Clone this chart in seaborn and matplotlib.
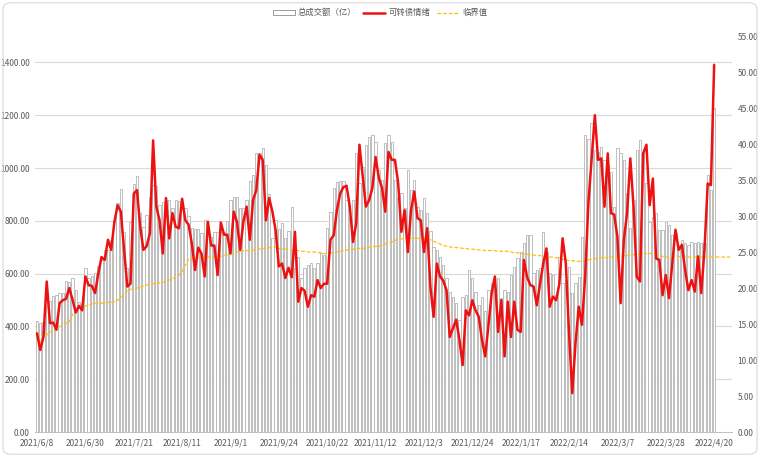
import numpy as np
import pandas as pd
import matplotlib
matplotlib.use("Agg")
import matplotlib.pyplot as plt
import seaborn as sns
from matplotlib.patches import Patch, FancyBboxPatch
from matplotlib.lines import Line2D

# --- data ---
# 总成交额（亿）, one bar per trading day 2021/6/8 .. 2022/4/20
turnover = [
    420, 412, 418, 477, 497, 516, 519, 525, 527, 573,
    569, 583, 538, 494, 485, 621, 583, 592, 602, 630,
    653, 691, 691, 727, 797, 866, 922, 758, 623, 797,
    941, 969, 830, 777, 821, 891, 936, 930, 860, 870,
    880, 879, 850, 879, 876, 860, 850, 820, 772, 770,
    770, 753, 803, 751, 740, 758, 758, 758, 758, 800,
    879, 891, 891, 847, 850, 879, 950, 974, 1056, 1056,
    1075, 1011, 900, 734, 803, 770, 790, 734, 760, 853,
    620, 664, 582, 620, 633, 639, 620, 639, 677, 671,
    772, 835, 923, 948, 950, 950, 879, 815, 879, 1056,
    942, 1005, 1087, 1119, 1125, 1100, 992, 955, 1094, 1125,
    1100, 955, 891, 904, 847, 992, 917, 955, 853, 840,
    885, 828, 760, 700, 689, 664, 633, 582, 531, 510,
    487, 424, 512, 519, 614, 585, 530, 480, 512, 460,
    538, 563, 550, 582, 506, 538, 531, 595, 626, 658,
    683, 715, 746, 746, 601, 614, 620, 759, 683, 601,
    595, 520, 664, 563, 576, 626, 525, 563, 588, 740,
    1125, 1110, 1170, 1068, 1062, 1081, 1030, 1011, 986, 853,
    1075, 1056, 1030, 904, 772, 879, 1068, 1106, 1062, 942,
    797, 816, 828, 765, 765, 797, 784, 746, 753, 696,
    727, 715, 708, 721, 715, 721, 715, 715, 974, 917,
    1226,
]

# 可转债情绪 (right axis)
sentiment = [
    13.7, 11.4, 13.2, 20.9, 15.1, 15.2, 14.2, 17.9, 18.3, 18.5,
    20.0, 18.4, 16.6, 17.5, 16.9, 21.6, 20.4, 20.3, 19.3, 22.0,
    24.3, 23.9, 26.7, 25.3, 29.2, 31.5, 30.6, 25.3, 20.2, 20.6,
    33.1, 33.6, 28.5, 25.3, 25.8, 27.6, 40.5, 31.3, 29.4, 24.8,
    32.5, 26.9, 30.4, 28.5, 28.3, 32.4, 29.4, 28.8, 26.2, 22.5,
    25.6, 24.8, 21.6, 29.2, 25.9, 25.9, 21.8, 29.1, 27.4, 27.4,
    24.8, 30.6, 29.2, 25.3, 29.2, 31.3, 26.7, 32.2, 33.6, 38.5,
    37.8, 29.4, 32.5, 30.6, 28.0, 23.0,
    23.4, 21.4, 22.8, 21.5, 27.8, 18.1, 20.0, 19.6, 17.4, 19.0,
    18.8, 21.1, 20.0, 20.6, 20.6, 26.7, 27.3, 30.8, 33.1, 34.0,
    34.2, 31.3, 26.4, 29.0, 39.9, 35.5, 31.3, 32.2, 33.9, 38.2,
    35.3, 33.9, 30.6, 38.9, 37.8, 37.8, 34.6, 27.8, 30.8, 25.0,
    30.8, 33.4, 29.7, 29.4, 25.0, 28.3, 20.2, 16.0, 23.4, 21.6,
    21.0, 19.7, 13.2, 14.4, 15.6, 12.8, 9.3, 16.9, 16.2, 18.3,
    16.9, 16.0, 12.8, 10.5, 14.8, 19.3, 21.6, 13.9, 18.3, 10.5,
    18.1, 13.2, 18.1, 14.2, 13.9, 23.9, 21.5, 20.4,
    20.2, 17.6, 20.6, 23.4, 25.5, 17.4, 18.8, 18.3, 20.6, 26.9,
    23.4, 13.7, 5.4, 12.3, 17.4, 14.9, 21.6, 31.8, 37.8, 44.0,
    37.8, 38.0, 31.3, 38.7, 30.4, 30.2, 27.1, 17.9, 26.7, 30.4,
    38.0, 31.3, 21.6, 20.9, 38.7, 39.9, 31.5, 35.2, 24.1, 23.9,
    19.0, 21.8, 18.6, 23.4, 28.1, 25.3, 26.0, 22.5, 19.7, 21.1,
    19.5, 24.4, 19.3, 25.3, 34.5, 34.3, 51.0,
]

# 临界值 (right axis), runs a few empty days past the last trading day
threshold = [
    13.7, 12.5, 13.2, 13.5, 13.9, 14.1, 14.4, 14.6, 14.9, 15.1,
    15.3, 16.3, 16.8, 17.2, 17.3, 17.5, 17.6, 17.8, 17.9, 17.9,
    17.9, 17.9, 18.0, 18.0, 18.1, 18.3, 18.7, 19.1, 19.6, 19.8,
    19.9, 20.0, 20.1, 20.3, 20.4, 20.5, 20.6, 20.6, 20.7, 20.8,
    20.9, 21.1, 21.3, 21.5, 21.8, 22.3, 23.2, 24.0, 24.1, 24.2,
    24.2, 24.2, 24.3, 24.3, 24.3, 24.3, 24.4, 24.4, 24.5, 24.6,
    24.7, 24.9, 25.0, 25.1, 25.1, 25.2, 25.2, 25.3, 25.3, 25.4,
    25.5, 25.5, 25.6, 25.6, 25.7, 25.5, 25.4, 25.4, 25.3, 25.3,
    25.3, 25.2, 25.1, 25.1, 25.0, 25.0, 25.0, 24.9, 24.9, 24.8,
    24.8, 24.9, 24.9, 25.0, 25.1, 25.2, 25.3, 25.3, 25.4, 25.4,
    25.5, 25.5, 25.6, 25.7, 25.7, 25.8, 25.8, 26.0, 26.1, 26.3,
    26.4, 26.6, 26.8, 26.8, 26.9, 26.9, 26.9, 26.9, 26.9, 26.9,
    26.8, 26.8, 26.7, 26.5, 26.3, 26.1, 25.9, 25.8, 25.7, 25.7,
    25.6, 25.6, 25.5, 25.5, 25.4, 25.4, 25.3, 25.3, 25.3, 25.2,
    25.2, 25.2, 25.2, 25.1, 25.1, 25.1, 25.1, 25.0, 24.9, 24.9,
    24.8, 24.7, 24.7, 24.6, 24.6, 24.5, 24.5, 24.4, 24.4, 24.3,
    24.3, 24.2, 24.1, 24.0, 23.9, 23.8, 23.8, 23.7, 23.7, 23.7,
    23.8, 23.9, 24.0, 24.1, 24.1, 24.2, 24.2, 24.3, 24.3, 24.3,
    24.4, 24.4, 24.5, 24.5, 24.6, 24.6, 24.7, 24.7, 24.8, 24.8,
    24.8, 24.8, 24.6, 24.5, 24.4, 24.3, 24.3, 24.4, 24.5, 24.4,
    24.3, 24.3, 24.3, 24.3, 24.3, 24.3, 24.3, 24.3, 24.3, 24.3,
    24.3, 24.3, 24.3, 24.3, 24.3, 24.3,
]

# every 15th trading day gets a label
tick_labels = [
    "2021/6/8", "2021/6/30", "2021/7/21", "2021/8/11", "2021/9/1",
    "2021/9/24", "2021/10/22", "2021/11/12", "2021/12/3", "2021/12/24",
    "2022/1/17", "2022/2/14", "2022/3/7", "2022/3/28", "2022/4/20",
]
n_slots = len(threshold)

sns.set_theme(style="white")
plt.rcParams["font.family"] = ["Noto Sans CJK SC", "DejaVu Sans"]

TXT = "#595959"
GRID = "#D9D9D9"

fig = plt.figure(figsize=(7.6, 4.57), dpi=100)
ax = fig.add_axes([0.0466, 0.0547, 0.9164, 0.8665])

df = pd.DataFrame({"day": np.arange(len(turnover)), "turnover": turnover})
sns.barplot(data=df, x="day", y="turnover", ax=ax, color="white",
            edgecolor="#B4B4B4", linewidth=0.6, width=0.72, zorder=2)

ax.set_ylim(0, 1500)
ax.set_yticks(np.arange(0, 1401, 200))
ax.set_yticklabels([f"{v:.2f}" for v in np.arange(0, 1401, 200)])
ax.yaxis.grid(True, color=GRID, linewidth=0.8, zorder=0)
ax.set_axisbelow(True)
ax.set_xlim(-0.5, n_slots - 0.5)
ax.set_xlabel("")
ax.set_ylabel("")

ax2 = ax.twinx()
sns.lineplot(x=np.arange(n_slots), y=threshold, ax=ax2, color="#FFC000",
             linewidth=0.9, linestyle=(0, (3, 1.5)), zorder=3)
sns.lineplot(x=np.arange(len(sentiment)), y=sentiment, ax=ax2, color="#EE1111",
             linewidth=1.8, zorder=4, solid_joinstyle="round",
             solid_capstyle="round")
ax2.set_ylim(0, 55)
ax2.set_yticks(np.arange(0, 56, 5))
ax2.set_yticklabels([f"{v:.2f}" for v in np.arange(0, 56, 5)])
ax2.set_xlim(-0.5, n_slots - 0.5)

# category axis: labels every 15 days, tick marks between every category
ax.set_xticks(np.arange(0, 15 * len(tick_labels), 15))
ax.set_xticklabels(tick_labels)
ax.set_xticks(np.arange(-0.5, n_slots, 1), minor=True)
ax.tick_params(axis="x", which="major", length=0, labelsize=6, colors=TXT, pad=5)
ax.tick_params(axis="x", which="minor", length=3, width=0.5, color="#C8C8C8")
ax.tick_params(axis="y", length=0, labelsize=6, colors=TXT, pad=4)
ax2.tick_params(axis="y", length=0, labelsize=6, colors=TXT, pad=4)

for a in (ax, ax2):
    for s in ("top", "left", "right"):
        a.spines[s].set_visible(False)
    a.spines["bottom"].set_color("#BFBFBF")
    a.spines["bottom"].set_linewidth(0.6)
    a.set_ylabel("")

handles = [
    Patch(facecolor="white", edgecolor="#8C8C8C", linewidth=0.6),
    Line2D([], [], color="#EE1111", linewidth=1.8),
    Line2D([], [], color="#FFC000", linewidth=0.9, linestyle=(0, (3, 1.5))),
]
fig.legend(handles, ["总成交额（亿）", "可转债情绪", "临界值"], loc="center",
           bbox_to_anchor=(0.5, 0.972), ncol=3, frameon=False, fontsize=6,
           handlelength=2.6, handleheight=0.6, columnspacing=0.8,
           handletextpad=0.4, labelcolor=TXT)

# rounded chart-area border
fig.patches.append(FancyBboxPatch((0.004, 0.006), 0.992, 0.988,
                                  boxstyle="round,pad=0,rounding_size=0.012",
                                  transform=fig.transFigure, fill=False,
                                  edgecolor="#D9D9D9", linewidth=0.8))

fig.savefig("out.png", dpi=100, facecolor="white")
